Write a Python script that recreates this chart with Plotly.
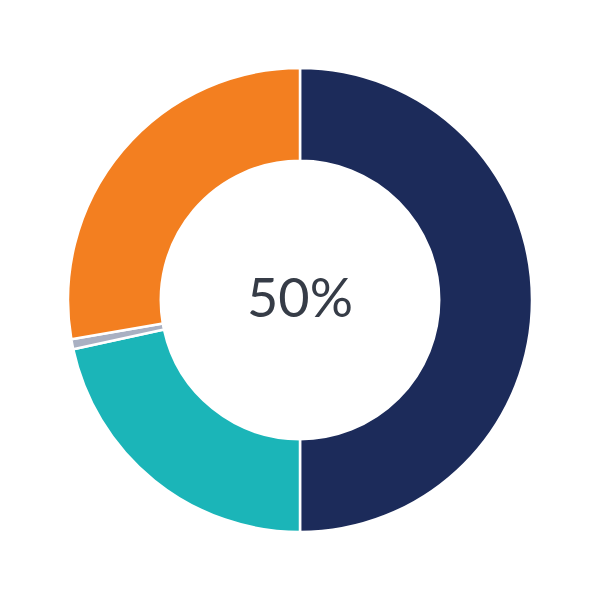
import plotly.graph_objects as go

labels = ["Navy", "Teal", "Gray", "Orange"]
values = [50, 21.6, 0.7, 27.7]
colors = ["#1c2b5a", "#1bb5b8", "#a9b0c2", "#f37f20"]
center_text = "50%"

fig = go.Figure(go.Pie(
    labels=labels,
    values=values,
    hole=0.6,
    sort=False,
    direction="clockwise",
    rotation=0,
    marker=dict(colors=colors, line=dict(color="white", width=2.5)),
    textinfo="none",
    hoverinfo="label+percent",
    showlegend=False,
))
fig.update_layout(
    width=600, height=600,
    margin=dict(l=68, r=68, t=68, b=68),
    paper_bgcolor="white",
    plot_bgcolor="white",
    annotations=[dict(text=center_text, x=0.5, y=0.5, xref="paper", yref="paper",
                      showarrow=False, yshift=4,
                      font=dict(family="Lato", size=54, color="#363c47"))],
)
fig.write_html("out.html", config={"displayModeBar": False},
               post_script="document.body.style.margin='0';")
